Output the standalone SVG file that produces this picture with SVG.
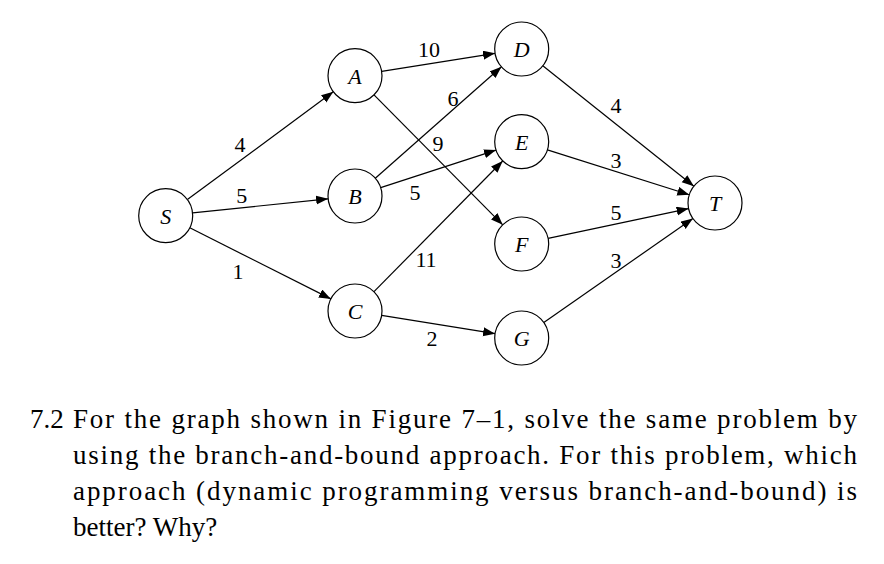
<svg xmlns="http://www.w3.org/2000/svg" width="884" height="564" viewBox="0 0 884 564">
<style>
.n circle{fill:#fff;stroke:#000;stroke-width:1.2}
.n text{font-family:"Liberation Serif",serif;font-style:italic;font-size:22px;text-anchor:middle}
.e line{stroke:#000;stroke-width:1.2;marker-end:url(#ar)}
.w{font-family:"Liberation Serif",serif;font-size:22px;text-anchor:middle}
.p{font-family:"Liberation Serif",serif;font-size:27px}
</style>
<defs><marker id="ar" markerUnits="userSpaceOnUse" markerWidth="13" markerHeight="10" refX="12" refY="4.5" orient="auto"><path d="M0,0 L12,4.5 L0,9 Z" fill="#000"/></marker></defs>
<rect width="884" height="564" fill="#fff"/>
<g id="edges" class="e">
<line x1="187.4" y1="199.6" x2="333.3" y2="91.8"/>
<line x1="192.6" y1="212.9" x2="328.1" y2="198.8"/>
<line x1="189.8" y1="227.8" x2="330.9" y2="298.9"/>
<line x1="381.7" y1="71.4" x2="495" y2="53.3"/>
<line x1="374" y1="94.9" x2="502.7" y2="224.8"/>
<line x1="375.3" y1="178.2" x2="501.5" y2="66.8"/>
<line x1="380.7" y1="187.6" x2="496" y2="150.1"/>
<line x1="374" y1="291.7" x2="502.7" y2="161"/>
<line x1="381.6" y1="315.3" x2="495.1" y2="333.7"/>
<line x1="542.8" y1="65.8" x2="693.9" y2="186.2"/>
<line x1="547.4" y1="149.9" x2="689.3" y2="194.8"/>
<line x1="548.1" y1="238.4" x2="688.6" y2="208.6"/>
<line x1="543.8" y1="322.5" x2="692.9" y2="218.5"/>
</g>
<g id="weights">
<text class="w" x="429" y="57">10</text>
<text class="w" x="240" y="152">4</text>
<text class="w" x="241.7" y="203">5</text>
<text class="w" x="238" y="279">1</text>
<text class="w" x="453" y="106">6</text>
<text class="w" x="438" y="151">9</text>
<text class="w" x="415" y="200">5</text>
<text class="w" x="426" y="267">11</text>
<text class="w" x="432" y="346">2</text>
<text class="w" x="616" y="113">4</text>
<text class="w" x="616" y="168">3</text>
<text class="w" x="616" y="220">5</text>
<text class="w" x="616" y="268">3</text>
</g>
<g id="S" class="n"><circle cx="165.7" cy="215.7" r="27"/><text x="165.7" y="223.5">S</text></g>
<g id="A" class="n"><circle cx="355" cy="75.7" r="27"/><text x="355" y="83.5">A</text></g>
<g id="B" class="n"><circle cx="355" cy="196" r="27"/><text x="355" y="204">B</text></g>
<g id="C" class="n"><circle cx="355" cy="311" r="27"/><text x="355" y="319">C</text></g>
<g id="D" class="n"><circle cx="521.7" cy="49" r="27"/><text x="521.7" y="57">D</text></g>
<g id="E" class="n"><circle cx="521.7" cy="141.7" r="27"/><text x="521.7" y="149.5">E</text></g>
<g id="F" class="n"><circle cx="521.7" cy="244" r="27"/><text x="521.7" y="252">F</text></g>
<g id="G" class="n"><circle cx="521.7" cy="338" r="27"/><text x="521.7" y="346">G</text></g>
<g id="T" class="n"><circle cx="715" cy="203" r="27"/><text x="715" y="211">T</text></g>
<g id="caption">
<text class="p" x="30" y="428">7.2</text>
<text class="p" x="73" y="428" textLength="784" lengthAdjust="spacing">For the graph shown in Figure 7–1, solve the same problem by</text>
<text class="p" x="73" y="464" textLength="784" lengthAdjust="spacing">using the branch-and-bound approach. For this problem, which</text>
<text class="p" x="73" y="500" textLength="784" lengthAdjust="spacing">approach (dynamic programming versus branch-and-bound) is</text>
<text class="p" x="73" y="536">better? Why?</text>
</g>
</svg>
